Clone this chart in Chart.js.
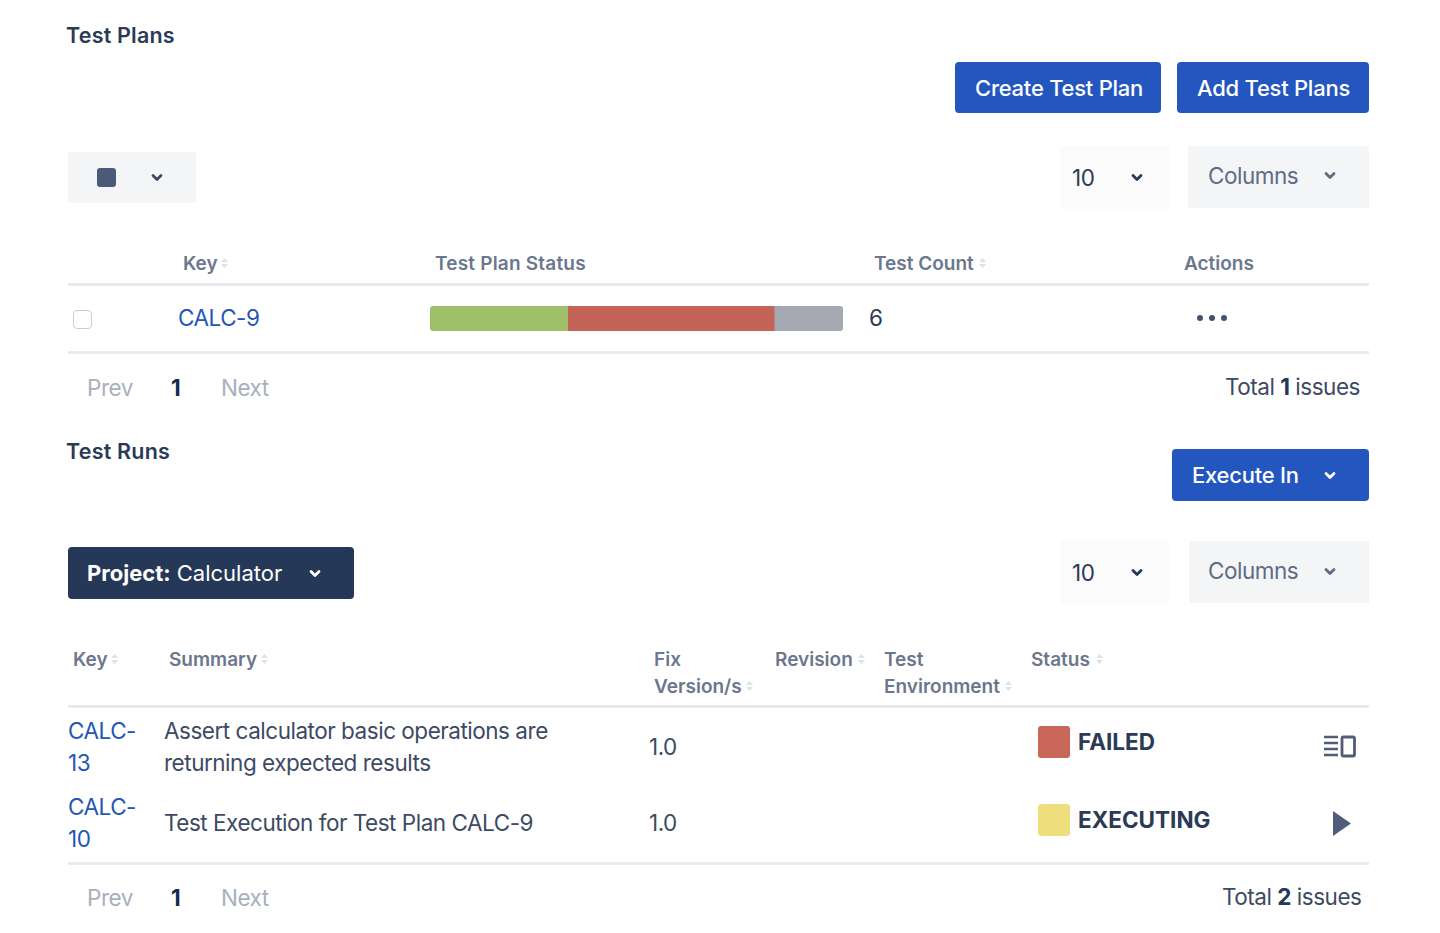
<!DOCTYPE html>
<html>
<head>
<meta charset="utf-8">
<title>Test Plans</title>
<script src="https://cdn.jsdelivr.net/npm/chart.js@4"></script>
<style>
  html, body { margin: 0; padding: 0; background: #fff; }
  body { width: 1440px; height: 933px; position: relative; overflow: hidden; font-family: Inter, Roboto, sans-serif; }
  .t { position: absolute; white-space: nowrap; line-height: 1; transform: translateY(-50%); }
  .box { position: absolute; box-sizing: border-box; }
  .rule { position: absolute; left: 68px; width: 1301px; background: #e8eaed; }
  svg { position: absolute; overflow: visible; }
  #barWrap { position: absolute; left: 430px; top: 306px; width: 413px; height: 25px; border-radius: 3px; overflow: hidden; }
</style>
</head>
<body>
<div id="barWrap"><canvas id="statusChart"></canvas></div>
<script>
  const statusLabels = ['CALC-9'];
  const passedValues = [2];
  const failedValues = [3];
  const todoValues = [1];

  const NAVY = '#2b3a55', GREY = '#6b778c', BLUE = '#2456b8', FADED = '#a9b0bc', BODY = '#3d4a63';

  function text(str, x, y, size, color, weight, extraSpacing) {
    const el = document.createElement('div');
    el.className = 't';
    el.innerHTML = str;
    let spacing = extraSpacing || 0;
    if (size === 22.5 && !weight) spacing = -0.48;
    if (weight === 500) spacing = -0.25;
    if (size === 21.5) spacing = 0.2;
    el.style.cssText = `left:${x}px;top:${y}px;font-size:${size}px;color:${color};font-weight:${weight || 400};letter-spacing:${spacing}px`;
    document.body.appendChild(el);
  }

  function box(x, y, w, h, bg, radius, border) {
    const el = document.createElement('div');
    el.className = 'box';
    el.style.cssText = `left:${x}px;top:${y}px;width:${w}px;height:${h}px;background:${bg};border-radius:${radius || 0}px;${border ? 'border:' + border : ''}`;
    document.body.appendChild(el);
  }

  function rule(y, h) {
    const el = document.createElement('div');
    el.className = 'rule';
    el.style.cssText = `top:${y}px;height:${h}px`;
    document.body.appendChild(el);
  }

  function svg(x, y, inner) {
    const ns = 'http://www.w3.org/2000/svg';
    const el = document.createElementNS(ns, 'svg');
    el.setAttribute('width', 40);
    el.setAttribute('height', 40);
    el.style.left = x + 'px';
    el.style.top = y + 'px';
    el.innerHTML = inner;
    document.body.appendChild(el);
  }

  function chevron(cx, cy, color) {
    svg(cx - 5, cy - 4, `<path d="M1 1.5 L5 5.5 L9 1.5" fill="none" stroke="${color}" stroke-width="2.8" stroke-linecap="round" stroke-linejoin="round"/>`);
  }

  function sortIcon(cx, cy) {
    svg(cx - 3.5, cy - 6, '<path d="M0 5 L3.5 1 L7 5 Z M0 7 L3.5 11 L7 7 Z" fill="#dfe1e6"/>');
  }

  // Test Plans section
  text('Test Plans', 66, 36, 21.5, NAVY, 600);
  box(955, 62, 206, 51, '#2456bf', 4);
  box(1177, 62, 192, 51, '#2456bf', 4);
  text('Create Test Plan', 975, 88, 22, '#fff', 500);
  text('Add Test Plans', 1197, 88, 22, '#fff', 500);

  box(68, 152, 128, 51, '#f4f5f7', 4);
  box(97, 168, 19, 19, '#4a5a78', 3);
  chevron(157, 178, '#3d4a63');

  box(1060, 146, 110, 63, '#fbfbfc', 4);
  text('10', 1072, 178, 22.5, NAVY);
  chevron(1137, 178, '#253858');
  box(1188, 146, 181, 62, '#f4f5f7', 0);
  text('Columns', 1208, 176, 22.5, '#5e6c84');
  chevron(1330, 176, '#5e6c84');

  text('Key', 183, 263, 19, GREY, 600);
  sortIcon(224, 263);
  text('Test Plan Status', 435, 263, 19, GREY, 600, 0.2);
  text('Test Count', 874, 263, 19, GREY, 600);
  sortIcon(982, 263);
  text('Actions', 1184, 263, 19, GREY, 600);
  rule(283, 3);

  box(73, 310, 19, 19, '#fff', 4, '1.5px solid #c9ced6');
  text('CALC-9', 178, 318, 22.5, BLUE);
  text('6', 869, 318, 22.5, NAVY);
  svg(1197, 314, '<circle cx="3" cy="4" r="3" fill="#42526e"/><circle cx="15" cy="4" r="3" fill="#42526e"/><circle cx="27" cy="4" r="3" fill="#42526e"/>');
  rule(351, 3);

  text('Prev', 87, 388, 22.5, FADED);
  text('1', 171, 388, 22.5, '#172b4d', 700);
  text('Next', 221, 388, 22.5, FADED);
  text('Total <b style="font-weight:700;color:#253858">1</b> issues', 1225, 387, 22.5, BODY);

  // Test Runs section
  text('Test Runs', 66, 452, 21.5, NAVY, 600);
  box(1172, 449, 197, 52, '#2456bf', 4);
  text('Execute In', 1192, 475, 22, '#fff', 500);
  chevron(1330, 476, '#fff');

  box(68, 547, 286, 52, '#253858', 4);
  text('<b style="font-weight:700">Project:</b> Calculator', 87, 573, 22, '#fff');
  chevron(315, 574, '#fff');

  box(1060, 541, 110, 63, '#fbfbfc', 4);
  text('10', 1072, 573, 22.5, NAVY);
  chevron(1137, 573, '#253858');
  box(1189, 541, 180, 62, '#f4f5f7', 0);
  text('Columns', 1208, 571, 22.5, '#5e6c84');
  chevron(1330, 572, '#5e6c84');

  text('Key', 73, 659, 19, GREY, 600);
  sortIcon(114, 659);
  text('Summary', 169, 659, 19, GREY, 600);
  sortIcon(264, 659);
  text('Fix', 654, 659, 19, GREY, 600);
  text('Version/s', 654, 686, 19, GREY, 600);
  sortIcon(749, 686);
  text('Revision', 775, 659, 19, GREY, 600);
  sortIcon(861, 659);
  text('Test', 884, 659, 19, GREY, 600);
  text('Environment', 884, 686, 19, GREY, 600);
  sortIcon(1008, 686);
  text('Status', 1031, 659, 19, GREY, 600);
  sortIcon(1099, 659);
  rule(705, 3);

  text('CALC-', 68, 731, 22.5, BLUE);
  text('13', 68, 763, 22.5, BLUE);
  text('Assert calculator basic operations are', 164, 731, 22.5, BODY);
  text('returning expected results', 164, 763, 22.5, BODY);
  text('1.0', 649, 747, 22.5, BODY);
  box(1038, 726, 32, 32, '#c9675a', 3);
  text('FAILED', 1078, 742, 22.5, NAVY, 700);
  svg(1323, 735, '<path d="M1 2 H15 M1 8 H15 M1 14 H15 M1 20 H15" stroke="#4f5d78" stroke-width="2.6" fill="none"/><rect x="19" y="2" width="12.5" height="19" rx="1.5" fill="none" stroke="#4f5d78" stroke-width="2.8"/>');

  text('CALC-', 68, 807, 22.5, BLUE);
  text('10', 68, 839, 22.5, BLUE);
  text('Test Execution for Test Plan CALC-9', 164, 823, 22.5, BODY);
  text('1.0', 649, 823, 22.5, BODY);
  box(1038, 804, 32, 32, '#efdf7c', 3);
  text('EXECUTING', 1078, 820, 22.5, NAVY, 700);
  svg(1333, 811, '<path d="M0 0 L18 12.5 L0 25 Z" fill="#4f5d78"/>');
  rule(862, 3);

  text('Prev', 87, 898, 22.5, FADED);
  text('1', 171, 898, 22.5, '#172b4d', 700);
  text('Next', 221, 898, 22.5, FADED);
  text('Total <b style="font-weight:700;color:#253858">2</b> issues', 1222, 897, 22.5, BODY);

  // the status bar is the only real chart on the page
  new Chart(document.getElementById('statusChart'), {
    type: 'bar',
    data: {
      labels: statusLabels,
      datasets: [
        { label: 'Passed', data: passedValues, backgroundColor: '#9fbf6b' },
        { label: 'Failed', data: failedValues, backgroundColor: '#c46458' },
        { label: 'To Do', data: todoValues, backgroundColor: '#a5a8b0' }
      ]
    },
    options: {
      indexAxis: 'y',
      responsive: true,
      maintainAspectRatio: false,
      animation: false,
      layout: { padding: 0 },
      datasets: { bar: { barPercentage: 1, categoryPercentage: 1 } },
      plugins: { legend: { display: false }, tooltip: { enabled: false } },
      scales: {
        x: { stacked: true, min: 0, max: 6, display: false },
        y: { stacked: true, display: false }
      }
    }
  });
</script>
</body>
</html>
